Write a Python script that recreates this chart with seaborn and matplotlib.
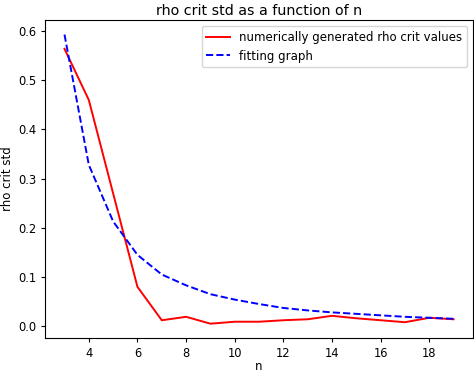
import numpy as np
import pandas as pd
import matplotlib
matplotlib.use("Agg")
import matplotlib.pyplot as plt
import seaborn as sns

# values
n_values = [3, 4, 5, 6, 7, 8, 9, 10, 11, 12, 13, 14, 15, 16, 17, 18, 19]
rho_crit_std = [0.564, 0.46, 0.27, 0.08, 0.012, 0.019, 0.005, 0.009, 0.009,
                0.012, 0.014, 0.021, 0.016, 0.012, 0.008, 0.017, 0.014]
fit_values = [0.593, 0.328, 0.213, 0.145, 0.105, 0.083, 0.065, 0.054, 0.045,
              0.037, 0.032, 0.028, 0.025, 0.022, 0.019, 0.017, 0.015]

df = pd.DataFrame({"n": n_values, "numeric": rho_crit_std, "fit": fit_values})

plt.rcParams["font.family"] = ["DejaVu Sans"]

fig, ax = plt.subplots(figsize=(4.74, 3.72), dpi=100)
fig.subplots_adjust(left=0.095, right=0.998, top=0.946, bottom=0.091)

sns.lineplot(data=df, x="n", y="numeric", color="red", linewidth=1.4,
             label="numerically generated rho crit values", ax=ax)
sns.lineplot(data=df, x="n", y="fit", color="blue", linewidth=1.4,
             linestyle="--", label="fitting graph", ax=ax)

ax.set_title("rho crit std as a function of n", fontsize=10.25, pad=4)
ax.set_xlabel("n", fontsize=8.5, labelpad=0)
ax.set_ylabel("rho crit std", fontsize=8.5, labelpad=3)
ax.set_xticks([4, 6, 8, 10, 12, 14, 16, 18])
ax.tick_params(labelsize=8.3, length=3)
ax.legend(loc="upper right", fontsize=8.5)

fig.savefig("out.png", dpi=100)
